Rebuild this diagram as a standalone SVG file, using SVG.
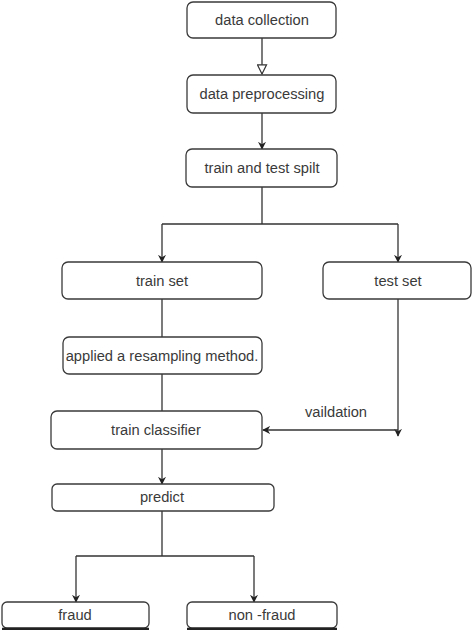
<svg xmlns="http://www.w3.org/2000/svg" width="474" height="630" viewBox="0 0 474 630">
<style>
.box{fill:#fff;stroke:#3a3a3a;stroke-width:1.3}
.lbl{font-family:"Liberation Sans",Arial,sans-serif;font-size:14.7px;fill:#3a3a3a;text-anchor:middle}
.ln{fill:none;stroke:#333;stroke-width:1.3}
</style>
<defs>
<marker id="fa" viewBox="0 0 10 10" refX="9" refY="5" markerWidth="8" markerHeight="8" markerUnits="userSpaceOnUse" orient="auto">
<path d="M0,0 L10,5 L0,10 L3,5 z" fill="#222"/>
</marker>
<marker id="ha" viewBox="0 0 12 12" refX="11" refY="6" markerWidth="11" markerHeight="11" markerUnits="userSpaceOnUse" orient="auto">
<path d="M1,1 L11,6 L1,11 z" fill="#fff" stroke="#333" stroke-width="1.3"/>
</marker>
</defs>
<rect width="474" height="630" fill="#fff"/>
<g id="connectors">
<path class="ln" d="M262,38 V74" marker-end="url(#ha)"/>
<path class="ln" d="M262,113 V149" marker-end="url(#fa)"/>
<path class="ln" d="M262,187 V224 M162,224 H398"/>
<path class="ln" d="M162,224 V262" marker-end="url(#fa)"/>
<path class="ln" d="M398,224 V262" marker-end="url(#fa)"/>
<path class="ln" d="M162,299 V337"/>
<path class="ln" d="M162,374 V411"/>
<path class="ln" d="M398,299 V436" marker-end="url(#fa)"/>
<path class="ln" d="M398,430 H263" marker-end="url(#fa)"/>
<path class="ln" d="M162,449 V484" marker-end="url(#fa)"/>
<path class="ln" d="M162,511 V556 M76,556 H254"/>
<path class="ln" d="M76,556 V602" marker-end="url(#fa)"/>
<path class="ln" d="M254,556 V602" marker-end="url(#fa)"/>
<text class="lbl" x="336" y="417">vaildation</text>
</g>
<g id="n1"><rect class="box" x="187" y="2" width="149" height="36" rx="6"/><text class="lbl" x="262" y="25">data collection</text></g>
<g id="n2"><rect class="box" x="187" y="75" width="149" height="38" rx="6"/><text class="lbl" x="262" y="99">data preprocessing</text></g>
<g id="n3"><rect class="box" x="186" y="149" width="151" height="38" rx="6"/><text class="lbl" x="262" y="173">train and test spilt</text></g>
<g id="n4"><rect class="box" x="62" y="262" width="200" height="37" rx="6"/><text class="lbl" x="162" y="286">train set</text></g>
<g id="n5"><rect class="box" x="323" y="262" width="148" height="37" rx="6"/><text class="lbl" x="398" y="286">test set</text></g>
<g id="n6"><rect class="box" x="63" y="337" width="199" height="37" rx="6"/><text class="lbl" x="162" y="361">applied a resampling method.</text></g>
<g id="n7"><rect class="box" x="51" y="411" width="211" height="38" rx="6"/><text class="lbl" x="156" y="435">train classifier</text></g>
<g id="n8"><rect class="box" x="52" y="484" width="222" height="27" rx="5"/><text class="lbl" x="162" y="502">predict</text></g>
<g id="n9"><rect class="box" x="2" y="602" width="147" height="26" rx="5"/><line x1="2" y1="629" x2="149" y2="629" stroke="#222" stroke-width="2.5"/><text class="lbl" x="75" y="620">fraud</text></g>
<g id="n10"><rect class="box" x="187" y="602" width="150" height="26" rx="5"/><line x1="187" y1="629" x2="337" y2="629" stroke="#222" stroke-width="2.5"/><text class="lbl" x="262" y="620">non -fraud</text></g>
</svg>
